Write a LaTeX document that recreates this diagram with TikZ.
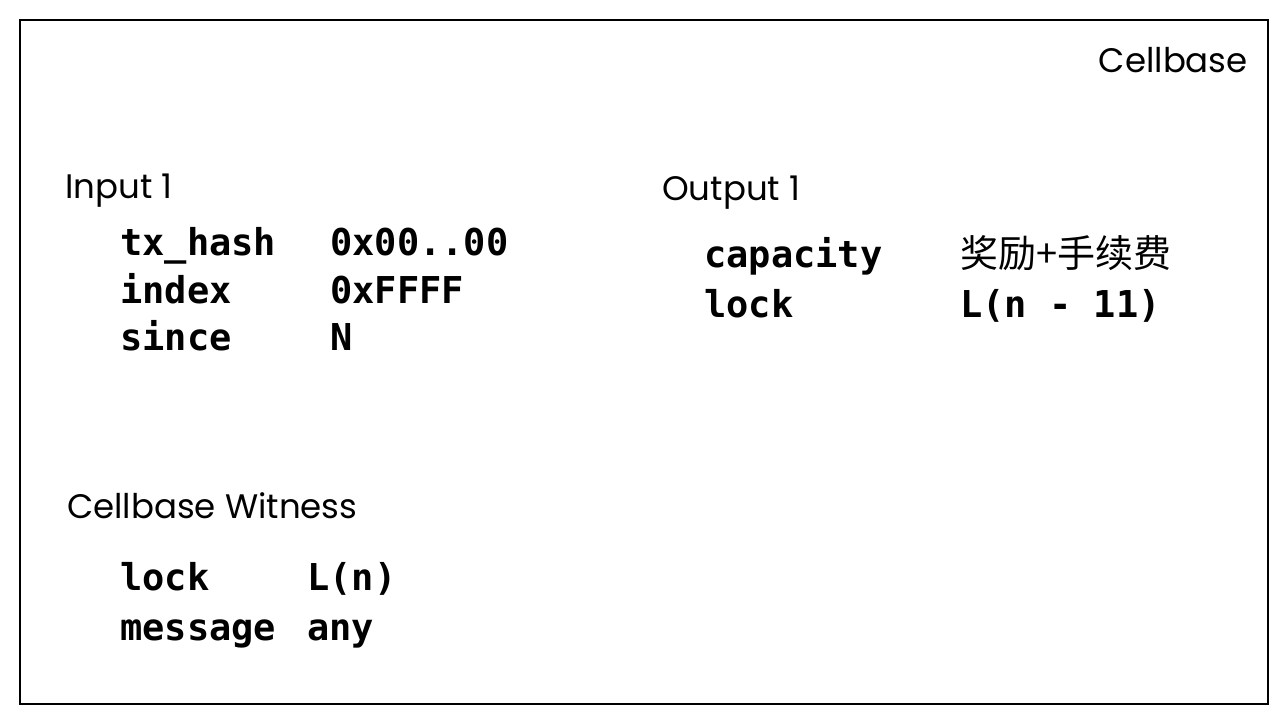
\documentclass[tikz,border=0pt]{standalone}
\usepackage{fontspec}
\newfontfamily\monof{DejaVu Sans Mono}
\newfontfamily\handf{Poppins}
\newfontfamily\cjk{Noto Sans CJK SC}
\begin{document}
\begin{tikzpicture}[x=1pt,y=-1pt,
  mono/.style={anchor=base west,inner sep=0,font=\monof\bfseries\fontsize{37}{40}\selectfont},
  hand/.style={anchor=base west,inner sep=0,font=\handf\fontsize{34}{38}\selectfont}]
\useasboundingbox (0,0) rectangle (1288,724);
\draw[line width=2pt,fill=white] (20,20) rectangle (1268,704);
\node[hand,anchor=base east] (cb) at (1248,72) {Cellbase};
\node[hand] (in) at (65,198) {Input 1};
\node[mono] (a1) at (120,255) {tx\_hash};
\node[mono] (b1) at (330,255) {0x00..00};
\node[mono] (a2) at (120,303) {index};
\node[mono] (b2) at (330,303) {0xFFFF};
\node[mono] (a3) at (120,350) {since};
\node[mono] (b3) at (330,350) {N};
\node[hand] (out) at (662,200) {Output 1};
\node[mono] (c1) at (704,267) {capacity};
\node[anchor=base west,inner sep=0,font=\cjk\fontsize{38}{40}\selectfont] (d1) at (960,267) {奖励+手续费};
\node[mono] (c2) at (704,317) {lock};
\node[mono] (d2) at (960,317) {L(n - 11)};
\node[hand] (w) at (67,518) {Cellbase Witness};
\node[mono] (e1) at (120,590) {lock};
\node[mono] (f1) at (307,590) {L(n)};
\node[mono] (e2) at (120,640) {message};
\node[mono] (f2) at (307,640) {any};
\end{tikzpicture}
\end{document}
